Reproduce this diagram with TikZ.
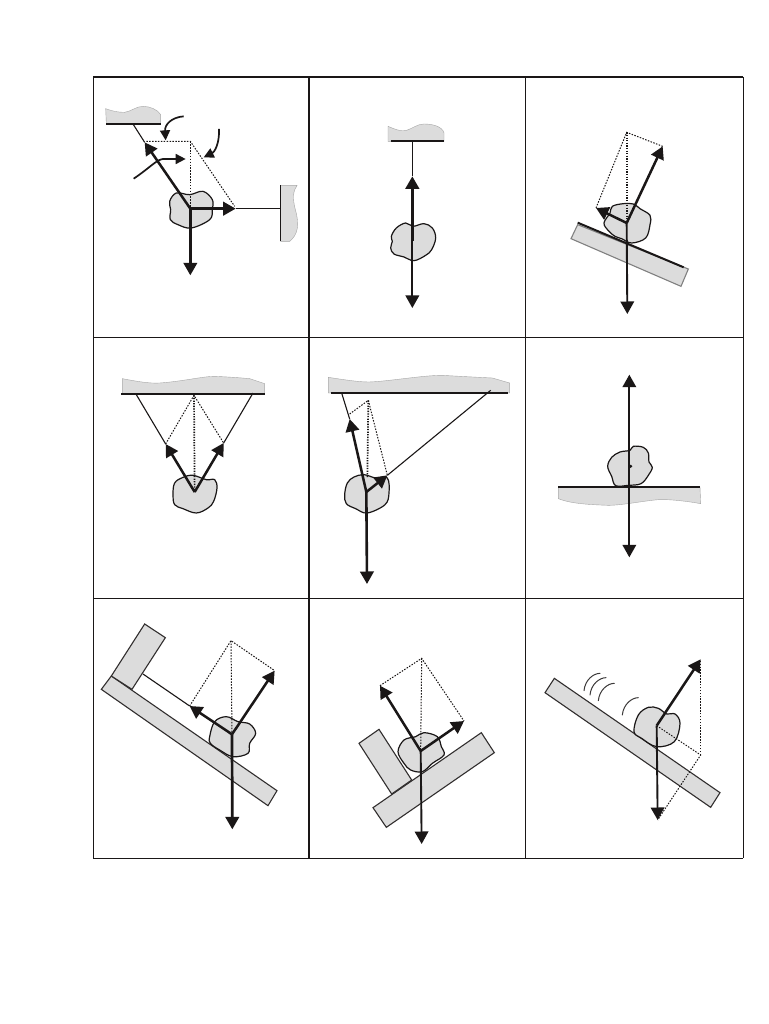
\documentclass[tikz,border=0pt]{standalone}
\usetikzlibrary{arrows.meta}
\definecolor{ink}{HTML}{1A1717}
\definecolor{stone}{HTML}{DCDCDC}
\tikzset{
  panel/.style 2 args={shift={(#1pt,-#2pt)},x=0.33333pt,y=-0.33333pt},
  grid line/.style={draw=ink,line width=0.9pt},
  grid heavy/.style={draw=ink,line width=1.6pt},
  blob/.style={draw=ink,fill=stone,line width=1.2pt},
  surface/.style={fill=stone,draw=gray!70,line width=0.4pt},
  edge line/.style={draw=ink,line width=2pt},
  plank/.style={fill=stone,draw=ink!90,line width=1.1pt,line join=miter},
  cord/.style={draw=ink,line width=1.1pt},
  force/.style={draw=ink,line width=2.5pt,-{Triangle[length=12.5pt,width=13.5pt]}},
  forcethin/.style={draw=ink,line width=1.9pt,-{Triangle[length=12.5pt,width=13.5pt]}},
  turn/.style={draw=ink,line width=1.7pt,-{Triangle[length=10pt,width=10pt]}},
  guide/.style={draw=ink,line width=1pt,dash pattern=on 1.5pt off 1.4pt},
  guideheavy/.style={draw=ink,line width=1.7pt,dash pattern=on 1.3pt off 1.3pt},
  skid/.style={draw=ink!85,line width=1pt,line cap=round},
}
\begin{document}
\begin{tikzpicture}[x=1pt,y=-1pt]
\useasboundingbox[fill=white] (0,0) rectangle (768,1024);
% grid
\coordinate (tl) at (93,77); \coordinate (tr) at (743,77);
\coordinate (bl) at (93,858); \coordinate (br) at (743,858);
\coordinate (t1) at (309,77); \coordinate (b1) at (309,858);
\coordinate (t2) at (525,77); \coordinate (b2) at (525,858);
\coordinate (l1) at (93,337.5); \coordinate (r1) at (743,337.5);
\coordinate (l2) at (93,598.5); \coordinate (r2) at (743,598.5);
\draw[grid line] (tl) -- (bl);
\draw[grid line] (t2) -- (b2);
\draw[grid line,line width=0.6pt] (tr) -- (br);
\draw[grid line] (l1) -- (r1);
\draw[grid line] (l2) -- (r2);
\draw[grid line] (bl) -- (br);
\draw[grid heavy] (tl) -- (tr);
\draw[grid heavy] (t1) -- (b1);

% panel 1
\begin{scope}[panel={93}{78}]
\coordinate (a0) at (292,392); \coordinate (a1) at (155,193); \coordinate (a2) at (428,392);
\coordinate (a3) at (292,592); \coordinate (a4) at (292,190); \coordinate (a5) at (120,138);
\coordinate (a6) at (563,392); \coordinate (a7) at (160,190); \coordinate (a8) at (425,385);
\fill[surface] (38,92) .. controls (60,100) and (75,103) .. (95,103) .. controls (115,100) and (130,85) .. (150,85) .. controls (170,85) and (195,95) .. (203,110) -- (203,138) -- (40,138) -- cycle;
\draw[edge line] (40,138) -- (204,138);
\fill[surface] (563,322) -- (612,322) .. controls (600,340) and (598,360) .. (607,395) .. controls (620,440) and (615,470) .. (590,490) -- (563,490) -- cycle;
\draw[cord,line width=0.8pt] (563,322) -- (563,490);
\draw[blob] plot[smooth cycle,tension=.6] coordinates {(230,370) (250,345) (290,350) (330,340) (358,365) (358,395) (350,425) (295,450) (255,440) (232,425) (233,395)};
\draw[guide] (a7) -- (a4) -- (a8);
\draw[guide] (a4) -- (a0);
\draw[cord] (a5) -- (a1);
\draw[cord] (a2) -- (a6);
\draw[force] (a0) -- (a1);
\draw[force] (a0) -- (a2);
\draw[force] (a0) -- (a3);
\draw[turn] (272,115) .. controls (235,118) and (215,140) .. (218,187);
\draw[turn] (378,153) .. controls (380,195) and (365,222) .. (332,238);
\draw[turn] (122,302) .. controls (170,270) and (190,245) .. (210,243) -- (278,243);
\end{scope}

% panel 2
\begin{scope}[panel={309}{78}]
\coordinate (b0) at (310,490); \coordinate (b1x) at (310,295); \coordinate (b2x) at (310,690); \coordinate (b3) at (310,190);
\fill[surface] (237,145) .. controls (260,155) and (275,160) .. (290,158) .. controls (310,152) and (325,138) .. (345,138) .. controls (370,138) and (400,145) .. (405,165) -- (405,190) -- (237,190) -- cycle;
\draw[edge line] (245,190) -- (405,190);
\draw[blob] plot[smooth cycle,tension=.6] coordinates {(247,475) (262,450) (290,435) (312,445) (345,437) (370,450) (380,480) (368,515) (350,532) (315,548) (285,537) (255,528) (245,510) (250,490)};
\draw[cord,line width=1.5pt] (b3) -- (b1x);
\draw[force,line width=2.8pt] (b0) -- (b1x);
\draw[forcethin] (b0) -- (b2x);
\end{scope}

% panel 3
\begin{scope}[panel={525}{78}]
\coordinate (c0) at (305,435); \coordinate (c1) at (307,708); \coordinate (c2) at (413,205); \coordinate (c3) at (213,390); \coordinate (c4) at (305,163);
\draw[plank,draw=gray] (158,440) -- (490,573) -- (468,625) -- (138,482) -- cycle;
\draw[edge line] (158,434) -- (476,568);
\draw[blob] plot[smooth cycle,tension=.6] coordinates {(237,435) (255,405) (262,385) (295,377) (325,378) (345,392) (375,412) (375,440) (362,480) (320,495) (290,482) (270,475) (250,458)};
\draw[guide] (c3) -- (c4) -- (c2);
\draw[guideheavy] (c4) -- (c0);
\draw[forcethin] (c0) -- (c1);
\draw[force] (c0) -- (c2);
\draw[force] (c0) -- (c3);
\end{scope}

% panel 4
\begin{scope}[panel={93}{338}]
\coordinate (d0) at (305,462); \coordinate (d1) at (218,318); \coordinate (d2) at (392,315); \coordinate (d3) at (303,172);
\fill[surface] (88,122) .. controls (130,130) and (170,137) .. (200,135) .. controls (270,130) and (330,115) .. (365,115) .. controls (410,117) and (450,120) .. (470,122) -- (515,137) -- (515,168) -- (88,168) -- cycle;
\draw[edge line,line width=2.4pt] (85,168) -- (515,168);
\draw[blob] plot[smooth cycle,tension=.6] coordinates {(240,470) (245,435) (270,418) (300,412) (340,425) (365,425) (372,450) (362,490) (345,510) (310,525) (270,512) (245,500)};
\draw[cord] (130,170) -- (d1);
\draw[cord] (480,165) -- (d2);
\draw[guide] (d1) -- (d3) -- (d2);
\draw[guideheavy] (d3) -- (d0);
\draw[force] (d0) -- (d1);
\draw[force] (d0) -- (d2);
\end{scope}

% panel 5
\begin{scope}[panel={309}{338}]
\coordinate (e0) at (172,462); \coordinate (e1) at (122,243); \coordinate (e2) at (235,412); \coordinate (e3) at (174,738); \coordinate (e4) at (178,187);
\fill[surface] (58,118) .. controls (110,126) and (150,132) .. (180,132) .. controls (240,130) and (340,112) .. (400,112) .. controls (450,115) and (510,118) .. (550,120) -- (602,135) -- (602,165) -- (58,165) -- cycle;
\draw[edge line] (65,165) -- (598,165);
\draw[blob] plot[smooth cycle,tension=.6] coordinates {(107,470) (115,435) (135,417) (165,410) (200,420) (235,420) (240,465) (228,500) (175,525) (140,512) (112,497)};
\draw[cord] (98,165) -- (e1);
\draw[cord] (545,157) -- (e2);
\draw[guide] (122,228) -- (e4) -- (e2);
\draw[guideheavy] (e4) -- (175,420);
\draw[force] (e0) -- (e1);
\draw[force] (e0) -- (e2);
\draw[force,line width=2.6pt] (e0) -- (e3);
\end{scope}

% panel 6
\begin{scope}[panel={525}{338}]
\coordinate (f0) at (313,385); \coordinate (f1) at (313,110); \coordinate (f2) at (313,658); 
\fill[surface] (100,447) -- (525,447) -- (527,497) .. controls (490,490) and (430,483) .. (400,485) .. controls (360,488) and (290,502) .. (250,502) .. controls (200,500) and (140,498) .. (100,482) -- cycle;
\draw[edge line] (100,447) -- (525,447);
\draw[blob] plot[smooth cycle,tension=.6] coordinates {(248,385) (260,358) (285,342) (315,337) (325,325) (355,328) (370,345) (372,372) (382,388) (370,412) (348,437) (310,442) (272,443) (260,415)};
\draw[forcethin] (f0) -- (f1);
\draw[forcethin] (f0) -- (f2);
\fill[ink] (317,385) circle[radius=5];
\end{scope}

% panel 7
\begin{scope}[panel={93}{600}]
\coordinate (g0) at (417,403); \coordinate (g1) at (290,318); \coordinate (g2) at (545,212); \coordinate (g3) at (418,688); \coordinate (g4) at (414,122);
\draw[plank] (55,228) -- (552,572) -- (525,617) -- (25,268) -- cycle;
\draw[plank] (155,72) -- (217,113) -- (117,268) -- (55,228) -- cycle;
\draw[cord] (150,222) -- (g1);
\draw[blob] plot[smooth cycle,tension=.6] coordinates {(350,410) (365,365) (400,350) (435,365) (470,372) (488,400) (470,430) (465,460) (420,470) (380,450) (352,430)};
\draw[guide] (g1) -- (g4) -- (g2);
\draw[guide] (g4) -- (g0);
\draw[force] (g0) -- (g1);
\draw[force] (g0) -- (g2);
\draw[force,line width=2.7pt] (g0) -- (g3);
\end{scope}

% panel 8
\begin{scope}[panel={309}{600}]
\coordinate (h0) at (335,453); \coordinate (h1) at (213,257); \coordinate (h2) at (465,363); \coordinate (h3) at (338,732); \coordinate (h4) at (338,175);
\draw[plank] (150,430) -- (210,388) -- (308,540) -- (248,582) -- cycle;
\draw[plank] (517,398) -- (556,458) -- (232,682) -- (192,623) -- cycle;
\draw[blob] plot[smooth cycle,tension=.6] coordinates {(267,455) (285,420) (320,410) (345,398) (385,410) (397,440) (405,465) (370,490) (340,515) (305,510) (285,490)};
\draw[guide] (h1) -- (h4) -- (h2);
\draw[guide] (h4) -- (h0);
\draw[force] (h0) -- (h1);
\draw[force] (h0) -- (h2);
\draw[forcethin] (h0) -- (h3);
\end{scope}

% panel 9
\begin{scope}[panel={525}{600}]
\coordinate (i0) at (395,377); \coordinate (i1) at (527,178); \coordinate (i2) at (398,660); \coordinate (i3) at (527,465);
\draw[plank] (88,235) -- (585,578) -- (557,622) -- (60,278) -- cycle;
\draw[skid] (177,272) .. controls (180,240) and (205,220) .. (225,220);
\draw[skid] (195,285) .. controls (198,253) and (223,233) .. (243,233);
\draw[skid] (220,302) .. controls (223,270) and (248,250) .. (268,250);
\draw[skid] (292,345) .. controls (295,313) and (320,293) .. (340,293);
\draw[blob] plot[smooth cycle,tension=.6] coordinates {(327,395) (340,345) (370,322) (400,325) (425,342) (450,342) (465,370) (448,425) (395,440) (350,415)};
\draw[guide] (i0) -- (i3) -- (i2);
\draw[guide] (i3) -- (i1);
\draw[force] (i0) -- (i1);
\draw[forcethin] (i0) -- (i2);
\end{scope}
\end{tikzpicture}
\end{document}
